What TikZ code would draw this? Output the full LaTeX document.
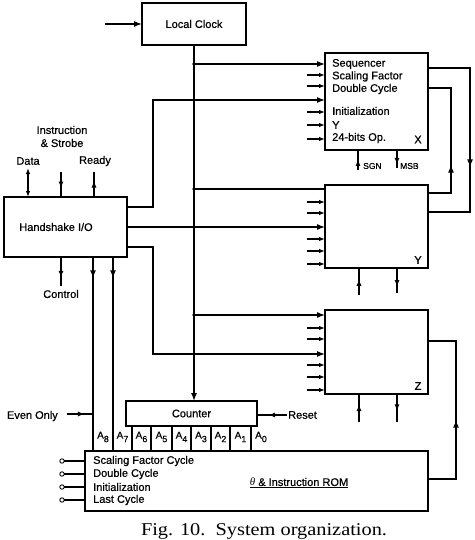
\documentclass[tikz,border=0pt]{standalone}
\usepackage{fontspec}
\setmainfont{Liberation Sans}[FakeBold=0.6]
\newfontfamily\capfont{Liberation Serif}
\usetikzlibrary{arrows.meta,decorations.markings,calc}
\begin{document}
\begin{tikzpicture}[x=1pt,y=-1pt,
  box/.style={draw, line width=2.6pt, rectangle, inner sep=0pt, outer sep=0pt, font=\fontsize{11}{13}\selectfont},
  conn/.style={line width=1.3pt},
  bus/.style={line width=2pt},
  bigarr/.style={-{Latex[length=8pt,width=6pt]}},
  smallarr/.style={-{Latex[length=6pt,width=4.5pt]}},
  midarr/.style={postaction={decorate}, decoration={markings, mark=at position #1 with {\arrow{Latex[length=7pt,width=5pt]}}}},
  midarrbig/.style={postaction={decorate}, decoration={markings, mark=at position #1 with {\arrow{Latex[length=8pt,width=6pt]}}}},
  lbl/.style={inner sep=0pt, font=\fontsize{11}{13}\selectfont},
  slbl/.style={inner sep=0pt, font=\fontsize{8.5}{10}\selectfont},
  alab/.style={inner sep=0pt, font=\fontsize{10}{12}\selectfont}
]
\useasboundingbox (0,0) rectangle (474,540);

% boxes
\node[box, minimum width=104pt, minimum height=42pt] (clock) at (194,24) {Local Clock};
\node[box, minimum width=103pt, minimum height=97pt] (X) at (376.5,101.5) {};
\node[box, minimum width=103pt, minimum height=83pt] (Y) at (376.5,226.5) {};
\node[box, minimum width=103pt, minimum height=84pt] (Z) at (376.5,352) {};
\node[box, minimum width=123pt, minimum height=60pt] (hs) at (65.5,227) {};
\node[box, minimum width=131pt, minimum height=25pt] (counter) at (191.5,413.5) {Counter};
\node[box, minimum width=343pt, minimum height=60pt] (rom) at (256.5,481) {};

\node[lbl] (hslab) at (56,227) {Handshake I/O};

% clock input
\coordinate (clkin) at (105,24);
\draw[conn,bigarr] (clkin) -- (clock.west);

% clock distribution
\draw[conn,bigarr] (clock.south) -- (clock.south |- counter.north);
\coordinate (c1) at (194,64);
\coordinate (c2) at (194,189);
\coordinate (c3) at (194,315);
\draw[conn,bigarr] (c1) -- (c1 -| X.west);
\draw[conn] (c2) -- (c2 -| Y.west);
\draw[conn,bigarr] (c3) -- (c3 -| Z.west);
\foreach \c in {c1,c2,c3} \fill (\c) circle (1.8);

% handshake outputs
\coordinate (v1) at (153,100);
\coordinate (v2) at (153,354);
\draw[conn,bigarr] (hs.east |- 0,207) -| (v1) -- (v1 -| X.west);
\draw[conn,bigarr] (hs.east |- 0,227) -- (Y.west |- 0,227);
\draw[conn,bigarr] (hs.east |- 0,247) -| (v2) -- (v2 -| Z.west);

% small inputs
\foreach \yy in {75,86,112,125,139} \draw[conn,smallarr] (307,\yy) -- (X.west |- 0,\yy);
\foreach \yy in {202,213,239,251,264} \draw[conn,smallarr] (307,\yy) -- (Y.west |- 0,\yy);
\foreach \yy in {328,339,365,377,390} \draw[conn,smallarr] (307,\yy) -- (Z.west |- 0,\yy);

% X texts
\node[lbl,anchor=west] (xt1) at (332,64) {Sequencer};
\node[lbl,anchor=west] (xt2) at (332,76.5) {Scaling Factor};
\node[lbl,anchor=west] (xt3) at (332,89) {Double Cycle};
\node[lbl,anchor=west] (xt4) at (332,111) {Initialization};
\node[lbl,anchor=west] (xt5) at (332,125) {Y};
\node[lbl,anchor=west] (xt6) at (332,138) {24-bits Op.};
\node[lbl] (xname) at (418,139.5) {X};
\node[lbl] (yname) at (418,260) {Y};
\node[lbl] (zname) at (418,386) {Z};

% X/Y loops
\draw[conn,midarrbig=0.62] (X.east |- 0,68) -- (470,68) -- (470,212) -- (Y.east |- 0,212);
\draw[conn,midarrbig=0.34] (Y.east |- 0,193) -- (451,193) -- (451,88) -- (X.east |- 0,88);
\draw[conn,midarrbig=0.45] (rom.east |- 0,479) -- (456,479) -- (456,341) -- (Z.east |- 0,341);

% X bottom: SGN, MSB
\draw[conn,midarr=0.55] (358,170) -- (X.south -| 358,0);
\draw[conn,midarr=0.83] (X.south -| 397,0) -- (397,168);
\node[slbl,anchor=west] (sgn) at (363,166) {SGN};
\node[slbl,anchor=west] (msb) at (400,166) {MSB};

% Y bottom
\draw[conn,midarr=0.6] (359,295) -- (Y.south -| 359,0);
\draw[conn,midarr=0.76] (Y.south -| 397,0) -- (397,293);
% Z bottom
\draw[conn,midarr=0.64] (359,422) -- (Z.south -| 359,0);
\draw[conn,midarr=0.62] (Z.south -| 397,0) -- (397,422);

% handshake stubs
\draw[conn,{Latex[length=6pt,width=4.5pt]}-{Latex[length=6pt,width=4.5pt]}] (28,168) -- (hs.north -| 28,0);
\draw[conn,midarr=0.66] (61,172) -- (hs.north -| 61,0);
\draw[conn,midarr=0.66] (hs.north -| 94,0) -- (94,172);
\draw[conn,midarr=0.72] (hs.south -| 61,0) -- (61,286);
\node[lbl] (instr) at (62,130) {Instruction};
\node[lbl] (strobe) at (62,143) {\& Strobe};
\node[lbl] (data) at (28,161) {Data};
\node[lbl] (ready) at (95,161) {Ready};
\node[lbl] (control) at (61,294) {Control};

% buses from handshake to ROM
\draw[bus,midarrbig=0.11] (hs.south -| 93,0) -- (rom.north -| 93,0);
\draw[bus,midarrbig=0.11] (hs.south -| 113,0) -- (rom.north -| 113,0);

% counter inputs
\draw[conn,midarr=0.69] (67,414) -- (93,414);
\node[lbl,anchor=east] (even) at (58,416) {Even Only};
\draw[conn,midarr=0.63] (287,415) -- (counter.east |- 0,415);
\node[lbl,anchor=west] (reset) at (288,415) {Reset};

% address cells
\foreach \xx in {132,151,172,191,211,230,251}
  \draw[line width=1.4pt] (counter.south -| \xx,0) -- (rom.north -| \xx,0);
\foreach \xx/\d in {103/8,122.5/7,141.5/6,161.5/5,181.5/4,201/3,220.5/2,240.5/1,261/0}
  \node[alab] (a\d) at (\xx,437) {A\raisebox{-3.5pt}{\fontsize{9}{10}\selectfont\d}};

% ROM
\foreach \yy/\t [count=\i] in {461/Scaling Factor Cycle,474/Double Cycle,487/Initialization,500/Last Cycle}{
  \draw[conn] (rom.west |- 0,\yy) -- (64.2,\yy);
  \draw[line width=0.9pt] (62,\yy) circle (2.2);
  \node[lbl,anchor=west] (rl\i) at (93,\yy) {\t};
}
\node[lbl] (romname) at (299,483) {\underline{{\fontspec{Liberation Serif}\itshape θ} \& Instruction ROM}};

% caption
\node[inner sep=0pt, font=\capfont\fontsize{18}{21}\selectfont] (cap) at (264,531) {\scalebox{1.13}[1]{Fig. 10.\ \ System organization.}};
\end{tikzpicture}
\end{document}
